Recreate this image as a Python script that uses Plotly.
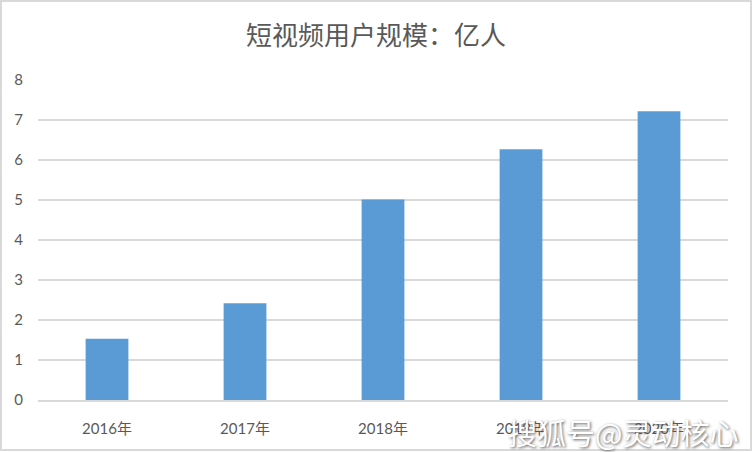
import plotly.graph_objects as go

categories = ["2016年", "2017年", "2018年", "2019年", "2020年"]
values = [1.53, 2.42, 5.01, 6.27, 7.22]
y_ticks = [0, 1, 2, 3, 4, 5, 6, 7, 8]

W, H = 752, 452
L, R, T, B = 38, 24, 80, 52
pw, ph = W - L - R, H - T - B

def px_x(px):
    return (px - L) / pw

def px_y(py):
    return (H - B - py) / ph

fig = go.Figure(go.Bar(
    x=categories, y=values,
    marker=dict(color="#5b9bd5", line=dict(width=0)),
    width=0.31,
))

fig.update_layout(
    width=W, height=H,
    margin=dict(l=L, r=R, t=T, b=B),
    paper_bgcolor="white", plot_bgcolor="white",
    showlegend=False,
    title=dict(text="短视频用户规模：亿人", x=0.5, xanchor="center", y=1 - 36 / H, yanchor="middle",
               font=dict(family="Noto Sans CJK SC", size=26, color="#595959")),
    font=dict(family="Lato, Noto Sans CJK SC", color="#595959", size=15),
    xaxis=dict(showgrid=False, showline=True, linecolor="#d9d9d9", linewidth=1.5,
               ticks="", ticklabelstandoff=14, tickfont=dict(size=15, color="#595959"), fixedrange=True),
    yaxis=dict(range=[0, 8], tickvals=y_ticks, showgrid=True, gridcolor="#d9d9d9", gridwidth=1.5,
               zeroline=False, showline=False, ticks="", ticklabelstandoff=14,
               tickfont=dict(size=15, color="#595959")),
    shapes=[dict(type="rect", xref="paper", yref="paper",
                 x0=px_x(1), x1=px_x(751), y0=px_y(1), y1=px_y(450),
                 line=dict(color="#d9d9d9", width=2), layer="below")],
    annotations=[dict(text="搜狐号@灵动核心", xref="paper", yref="paper",
                      x=px_x(740), y=px_y(432), xanchor="right", yanchor="middle",
                      showarrow=False,
                      font=dict(family="Noto Sans CJK SC", size=29, color="white",
                                shadow="1px 1px 3px #555555"))],
)

fig.write_html("out.html")
